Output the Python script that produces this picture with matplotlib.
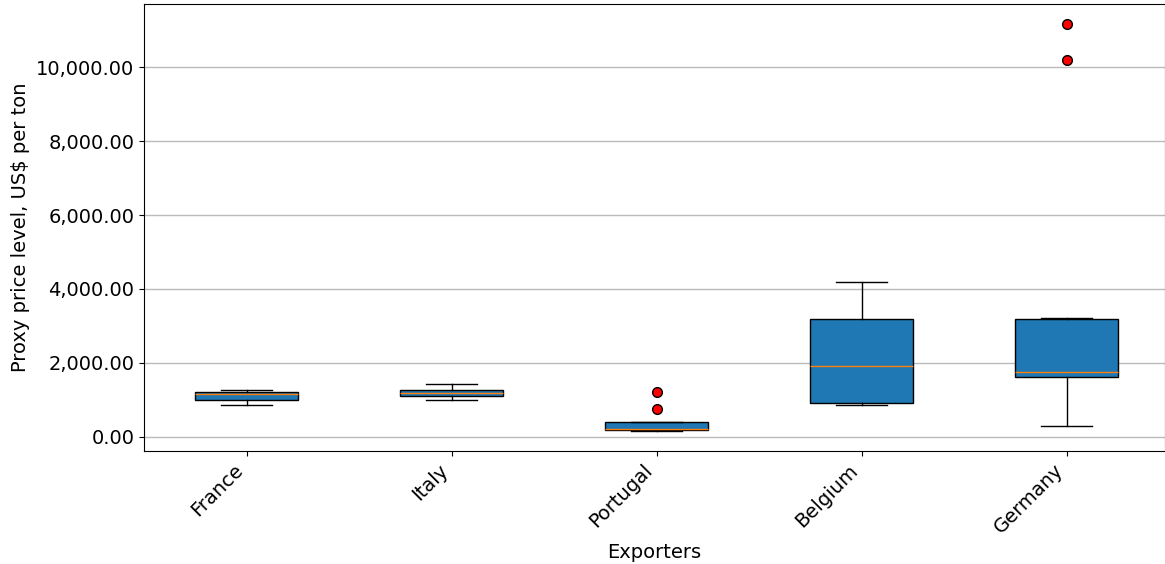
import matplotlib
matplotlib.use("Agg")
import matplotlib.pyplot as plt
from matplotlib.ticker import FuncFormatter

# values (US$ per ton)
exporters = ["France", "Italy", "Portugal", "Belgium", "Germany"]
whis_low = [865, 1000, 162, 846, 297]
q1 = [981, 1090, 181, 900, 1603]
median = [1162, 1171, 216, 1919, 1757]
q3 = [1208, 1262, 397, 3180, 3198]
whis_high = [1251, 1424, 397, 4190, 3200]
outliers = [[], [], [757, 1208], [], [10190, 11163]]

stats = []
for i, name in enumerate(exporters):
    stats.append({
        "label": name,
        "whislo": whis_low[i],
        "q1": q1[i],
        "med": median[i],
        "q3": q3[i],
        "whishi": whis_high[i],
        "fliers": outliers[i],
    })

fig = plt.figure(figsize=(11.65, 5.64), dpi=100)
ax = fig.add_axes([144 / 1165, 1 - 451 / 564, 1 - 144 / 1165, 447 / 564])

ax.bxp(stats, patch_artist=True, widths=0.5,
       boxprops=dict(facecolor="#1f77b4", edgecolor="black"),
       medianprops=dict(color="#ff7f0e"),
       flierprops=dict(marker="o", markerfacecolor="red",
                       markeredgecolor="black", markersize=7))

# right edge of the original was cut off slightly
ax.set_xlim(0.5, 5.48)
ax.yaxis.grid(True, color="#bbbbbb", linewidth=1)
ax.set_axisbelow(True)
ax.yaxis.set_major_formatter(FuncFormatter(lambda v, p: f"{v:,.2f}"))
ax.tick_params(axis="both", labelsize=14)
plt.setp(ax.get_xticklabels(), rotation=45, ha="right")
ax.set_xlabel("Exporters", fontsize=14)
ax.set_ylabel("Proxy price level, US$ per ton", fontsize=14)

fig.savefig("out.png", dpi=100)
